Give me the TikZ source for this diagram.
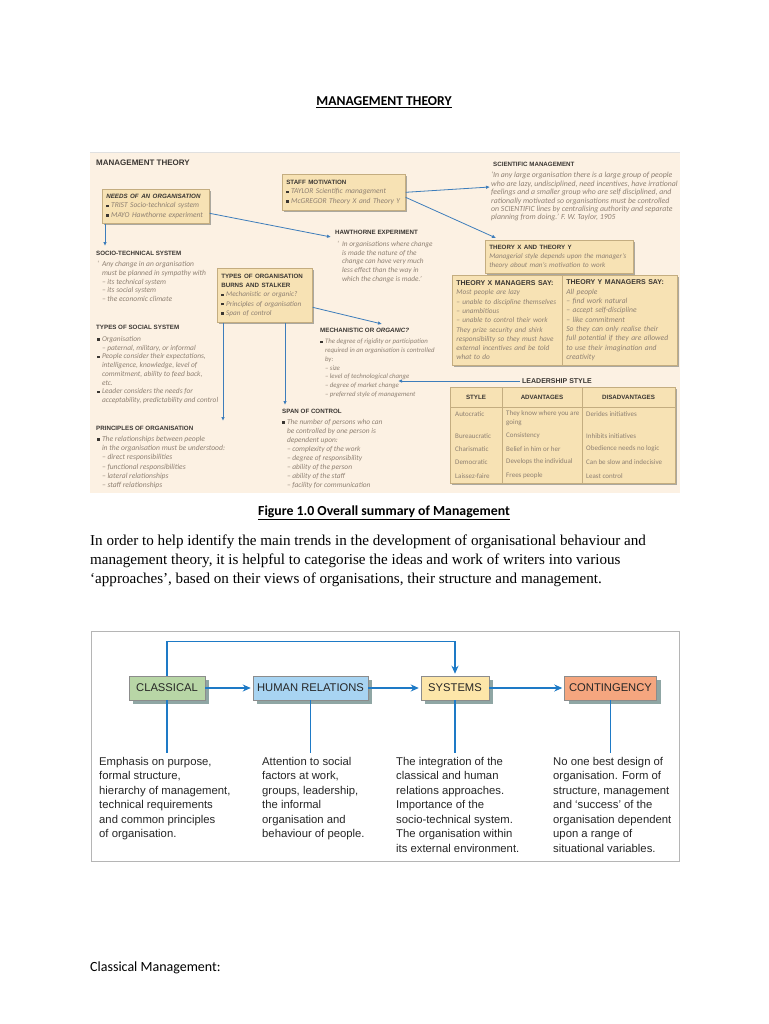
\documentclass[tikz,border=0pt]{standalone}
\usepackage{fontspec}
\setmainfont{Carlito}
\newfontfamily\timesf{Liberation Serif}
\newfontfamily\arialf{Liberation Sans}
\usetikzlibrary{arrows.meta,shadows}
\definecolor{figbg}{HTML}{FCF1E3}
\definecolor{boxfill}{HTML}{F7E2B4}
\definecolor{boxline}{HTML}{C4AD80}
\definecolor{shadowc}{HTML}{ABA89F}
\definecolor{ttlc}{HTML}{3A3632}
\definecolor{txtc}{HTML}{8E8072}
\definecolor{arrc}{HTML}{3D7DBB}
\definecolor{barr}{HTML}{1E7AC6}
\definecolor{gbox}{HTML}{B8D6A6}
\definecolor{bbox}{HTML}{A8D4F2}
\definecolor{ybox}{HTML}{FDE6A9}
\definecolor{obox}{HTML}{F5A67F}
\definecolor{bshadow}{HTML}{8FA6A4}
\definecolor{framec}{HTML}{B5B5B5}
\newcommand{\sqb}{{\color{ttlc}\rule[0.7pt]{2.5pt}{2.5pt}}\hspace{2.3pt}}
\newcommand{\ind}{\hspace*{4.8pt}}
\newcommand{\hq}{\makebox[4.8pt][l]{‘}}
\newcommand{\hdf}{\arialf\bfseries\fontsize{6.2}{\baselineskip}\selectfont\color{ttlc}}
\newcommand{\hdfb}{\arialf\bfseries\fontsize{7.0}{\baselineskip}\selectfont\color{ttlc}}
\newcommand{\bdf}{\itshape\color{txtc}}
\tikzset{
  hd/.style={font=\arialf\bfseries\fontsize{6.2}{8}\selectfont, text=ttlc, inner sep=0pt, anchor=north west},
  bodytxt/.style 2 args={font=\itshape\fontsize{#1}{#2}\selectfont, text=txtc, inner sep=0pt, anchor=north west, align=left},
  celltxt/.style={font=\fontsize{7.0}{8.6}\selectfont, text=txtc, inner sep=0pt, anchor=west, align=left},
  tbox/.style 2 args={fill=boxfill, draw=boxline, line width=0.6pt, anchor=north west, inner xsep=4pt, inner ysep=0pt, align=left,
     font=\fontsize{#1}{#2}\selectfont,
     drop shadow={shadow xshift=2pt, shadow yshift=-2pt, fill=shadowc, opacity=1}},
  arr/.style={draw=arrc, line width=0.8pt, -{Latex[length=4pt,width=3.5pt]}},
  cbox/.style={draw=black!45, line width=0.5pt, minimum height=24pt, inner sep=0pt,
     font=\arialf\fontsize{11.2}{13}\selectfont, text=black!85,
     drop shadow={shadow xshift=4pt, shadow yshift=-4pt, fill=bshadow, opacity=1}},
  barrow/.style={draw=barr, line width=1.3pt, -{Stealth[length=8pt,width=7pt]}, shorten >=2pt},
  bline/.style={draw=barr, line width=1.3pt},
  btxt/.style={font=\arialf\fontsize{11.3}{14.5}\selectfont, text=black!85, inner sep=0pt, anchor=north west, align=left}
}
\begin{document}
\begin{tikzpicture}[x=1pt,y=-1pt]
\useasboundingbox (0,0) rectangle (768,1024);
\fill[white] (0,0) rectangle (768,1024);
% page title
\node[font=\bfseries\fontsize{13.6}{15}\selectfont, inner sep=0pt] (pagetitle) at (384,102) {\underline{MANAGEMENT THEORY}};

% ===== figure 1 =====
\fill[figbg] (90,152.5) rectangle (680,493);
\draw[black!12, line width=0.6pt] (90,152.5) -- (680,152.5);
\node[hd, font=\arialf\bfseries\fontsize{8}{9}\selectfont] (mt) at (96,160) {MANAGEMENT THEORY};

\node[tbox={7.5}{9.6}, text width=99pt, minimum height=34pt] (needs) at (102,189)
  {\mbox{\hdf\itshape NEEDS OF AN ORGANISATION}\\\mbox{\bdf\sqb TRIST Socio-technical system}\\\mbox{\bdf\sqb MAYO Hawthorne experiment}};
\node[tbox={7.5}{9.6}, text width=115pt, minimum height=36pt] (staff) at (282,174)
  {\mbox{\hdf STAFF MOTIVATION}\\\mbox{\bdf\sqb TAYLOR Scientific management}\\\mbox{\bdf\sqb McGREGOR Theory X and Theory Y}};

\node[hd] (scit) at (493,162) {SCIENTIFIC MANAGEMENT};
\node[bodytxt={7.8}{8.4}] (scib) at (491,172) {‘In any large organisation there is a large group of people\\
who are lazy, undisciplined, need incentives, have irrational\\
feelings and a smaller group who are self disciplined, and\\
rationally motivated so organisations must be controlled\\
on SCIENTIFIC lines by centralising authority and separate\\
planning from doing.’ F. W. Taylor, 1905};

\node[hd] (hawt) at (335,230) {HAWTHORNE EXPERIMENT};
\node[bodytxt={7.3}{8.75}] (hawb) at (337,241) {\hq In organisations where change\\
\ind is made the nature of the\\
\ind change can have very much\\
\ind less effect than the way in\\
\ind which the change is made.’};

\node[tbox={7.1}{9.0}, text width=140pt, minimum height=33pt] (xy) at (485,240)
  {\mbox{\hdf THEORY X AND THEORY Y}\\\mbox{\bdf Managerial style depends upon the manager’s}\\\mbox{\bdf theory about man’s motivation to work}};
\node[tbox={7.3}{9.3}, text width=102pt, minimum height=90pt] (tx) at (452,275)
  {\mbox{\hdfb THEORY X MANAGERS SAY:}\\\mbox{\bdf Most people are lazy}\\\mbox{\bdf – unable to discipline themselves}\\\mbox{\bdf – unambitious}\\\mbox{\bdf – unable to control their work}\\\mbox{\bdf They prize security and shirk}\\\mbox{\bdf responsibility so they must have}\\\mbox{\bdf external incentives and be told}\\\mbox{\bdf what to do}};
\node[tbox={7.6}{9.3}, text width=107pt, minimum height=90pt] (ty) at (562,275)
  {\mbox{\hdfb THEORY Y MANAGERS SAY:}\\\mbox{\bdf All people}\\\mbox{\bdf – find work natural}\\\mbox{\bdf – accept self-discipline}\\\mbox{\bdf – like commitment}\\\mbox{\bdf So they can only realise their}\\\mbox{\bdf full potential if they are allowed}\\\mbox{\bdf to use their imagination and}\\\mbox{\bdf creativity}};

\node[hd] (soct) at (96,251) {SOCIO-TECHNICAL SYSTEM};
\node[bodytxt={7.5}{8.75}] (socb) at (97,261) {\hq Any change in an organisation\\
\ind must be planned in sympathy with\\
\ind – its technical system\\
\ind – its social system\\
\ind – the economic climate};

\node[tbox={7.2}{9.3}, text width=87pt, minimum height=54pt] (types) at (217,268)
  {\mbox{\hdf TYPES OF ORGANISATION}\\\mbox{\hdf BURNS AND STALKER}\\\mbox{\bdf\sqb Mechanistic or organic?}\\\mbox{\bdf\sqb Principles of organisation}\\\mbox{\bdf\sqb Span of control}};

\node[hd] (tsst) at (96,325) {TYPES OF SOCIAL SYSTEM};
\node[bodytxt={7.4}{8.75}] (tssb) at (97,336) {\sqb Organisation\\
\ind – paternal, military, or informal\\
\sqb People consider their expectations,\\
\ind intelligence, knowledge, level of\\
\ind commitment, ability to feed back,\\
\ind etc.\\
\sqb Leader considers the needs for\\
\ind acceptability, predictability and control};

\node[hd] (prt) at (96,426) {PRINCIPLES OF ORGANISATION};
\node[bodytxt={7.6}{9.2}] (prb) at (97,436) {\sqb The relationships between people\\
\ind in the organisation must be understood:\\
\ind – direct responsibilities\\
\ind – functional responsibilities\\
\ind – lateral relationships\\
\ind – staff relationships};

\node[hd] (mect) at (320,328) {MECHANISTIC OR \textit{ORGANIC?}};
\node[bodytxt={6.8}{8.7}] (mecb) at (320,339) {\sqb The degree of rigidity or participation\\
\ind required in an organisation is controlled\\
\ind by:\\
\ind – size\\
\ind – level of technological change\\
\ind – degree of market change\\
\ind – preferred style of management};

\node[hd] (spant) at (282,409) {SPAN OF CONTROL};
\node[bodytxt={7.4}{9}] (spanb) at (282,419) {\sqb The number of persons who can\\
\ind be controlled by one person is\\
\ind dependent upon:\\
\ind – complexity of the work\\
\ind – degree of responsibility\\
\ind – ability of the person\\
\ind – ability of the staff\\
\ind – facility for communication};

\node[hd, anchor=west, font=\arialf\bfseries\fontsize{7}{8}\selectfont] (lead) at (522,381) {LEADERSHIP STYLE};

% leadership table
\node[fill=boxfill, draw=boxline, line width=0.6pt, anchor=north west, minimum width=225pt, minimum height=96pt, inner sep=0pt,
  drop shadow={shadow xshift=2pt, shadow yshift=-2pt, fill=shadowc, opacity=1}] (tab) at (450,387) {};
\draw[boxline, line width=0.6pt] (450,407) -- (675,407) (502,387) -- (502,483) (582,387) -- (582,483);
\node[hd, anchor=center] (hs) at (476,397) {STYLE};
\node[hd, anchor=center] (ha) at (542,397) {ADVANTAGES};
\node[hd, anchor=center] (hd2) at (628.5,397) {DISADVANTAGES};
\node[celltxt] (s1) at (455,414) {Autocratic};
\node[celltxt] (s2) at (455,436) {Bureaucratic};
\node[celltxt] (s3) at (455,449) {Charismatic};
\node[celltxt] (s4) at (455,462) {Democratic};
\node[celltxt] (s5) at (455,476) {Laissez-faire};
\node[celltxt, anchor=north west] (a1) at (506,410.5) {They know where you are\\going};
\node[celltxt] (a2) at (506,436) {Consistency};
\node[celltxt] (a3) at (506,449) {Belief in him or her};
\node[celltxt] (a4) at (506,462) {Develops the individual};
\node[celltxt] (a5) at (506,476) {Frees people};
\node[celltxt] (d1) at (586,414) {Derides initiatives};
\node[celltxt] (d2) at (586,436) {Inhibits initiatives};
\node[celltxt] (d3) at (586,449) {Obedience needs no logic};
\node[celltxt] (d4) at (586,462) {Can be slow and indecisive};
\node[celltxt] (d5) at (586,476) {Least control};

% arrows in figure 1
\coordinate (hawin) at (331,237);
\coordinate (sciin) at (490,187);
\coordinate (socin) at (105,246);
\coordinate (mecin) at (382,324);
\coordinate (prin) at (223,421);
\coordinate (spin) at (285,405);
\coordinate (leadin) at (398,381);
\draw[arr] ([yshift=-7pt]needs.east) -- (hawin);
\draw[arr] (staff.east) -- (sciin);
\draw[arr] ([yshift=-5pt]staff.east) -- ([xshift=11pt,yshift=2pt]xy.north west);
\draw[arr] ([xshift=3pt]needs.south west) -- (socin);
\draw[arr] ([yshift=-12pt]types.east) -- (mecin);
\draw[arr] ([xshift=6pt]types.south west) -- (prin);
\draw[arr] ([xshift=68pt]types.south west) -- (spin);
\draw[arr] ([xshift=-2pt]lead.west) -- (leadin);

% caption
\node[font=\bfseries\fontsize{13.8}{15}\selectfont, inner sep=0pt] (caption) at (384,513) {\underline{Figure 1.0 Overall summary of Management}};

% paragraph
\node[font=\timesf\fontsize{15.1}{19}\selectfont, inner sep=0pt, anchor=north west, align=left] (para) at (90,535)
 {In order to help identify the main trends in the development of organisational behaviour and\\
 management theory, it is helpful to categorise the ideas and work of writers into various\\
 ‘approaches’, based on their views of organisations, their structure and management.};

% ===== figure 2 =====
\draw[framec, line width=0.8pt] (91,631.5) rectangle (679,861);
\node[cbox, fill=gbox, minimum width=76pt] (cl) at (167,688) {CLASSICAL};
\node[cbox, fill=bbox, minimum width=115pt] (hr) at (310.5,688) {HUMAN RELATIONS};
\node[cbox, fill=ybox, minimum width=68pt] (sy) at (455,688) {SYSTEMS};
\node[cbox, fill=obox, minimum width=92pt] (co) at (610.5,688) {CONTINGENCY};
\draw[barrow] (cl) -- (hr);
\draw[barrow] (hr) -- (sy);
\draw[barrow] (sy) -- (co);
\draw[barrow] (cl.north) -- ++(0,-34) -| (sy.north);

\node[btxt] (t1) at (99,757) {Emphasis on purpose,\\formal structure,\\hierarchy of management,\\technical requirements\\and common principles\\of organisation.};
\node[btxt] (t2) at (262,757) {Attention to social\\factors at work,\\groups, leadership,\\the informal\\organisation and\\behaviour of people.};
\node[btxt] (t3) at (396,757) {The integration of the\\classical and human\\relations approaches.\\Importance of the\\socio-technical system.\\The organisation within\\its external environment.};
\node[btxt] (t4) at (553,757) {No one best design of\\organisation. Form of\\structure, management\\and ‘success’ of the\\organisation dependent\\upon a range of\\situational variables.};
\draw[bline] (cl.south) -- ([yshift=4pt]cl.south |- t1.north);
\draw[bline] (hr.south) -- ([yshift=4pt]hr.south |- t2.north);
\draw[bline] (sy.south) -- ([yshift=4pt]sy.south |- t3.north);
\draw[bline] (co.south) -- ([yshift=4pt]co.south |- t4.north);

\node[font=\fontsize{14}{16}\selectfont, inner sep=0pt, anchor=west] (cm) at (90,968) {Classical Management:};
\end{tikzpicture}
\end{document}
